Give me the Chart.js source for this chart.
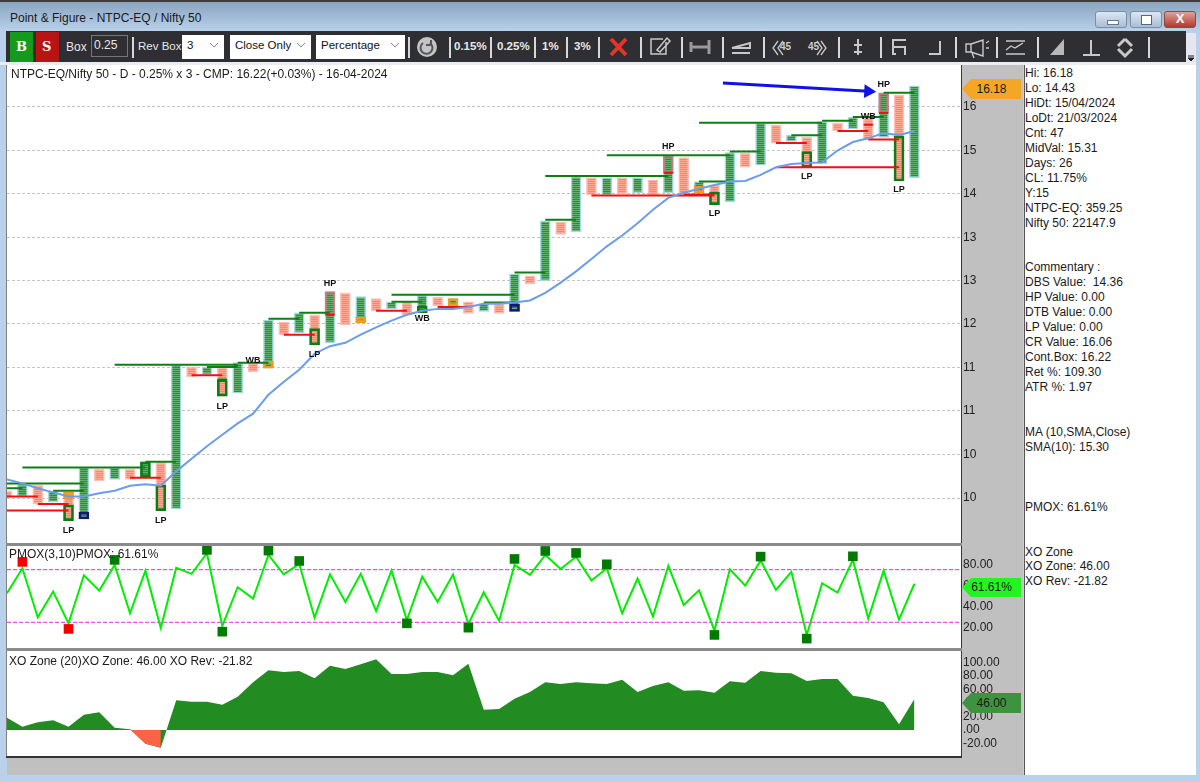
<!DOCTYPE html>
<html>
<head>
<meta charset="utf-8">
<title>Point & Figure - NTPC-EQ / Nifty 50</title>
<script src="https://cdn.jsdelivr.net/npm/chart.js@4/dist/chart.umd.min.js"></script>
<style>
    html, body { margin: 0; padding: 0; width: 1200px; height: 782px; overflow: hidden; background: #b9d1ea; font: 12px "Liberation Sans", Arial, sans-serif; color: #1a1a1a; }
    div, svg, canvas, pre { position: absolute; }
    #titlebar { left: 0; top: 0; width: 1200px; height: 31px; background: linear-gradient(#8aa5c0, #b9d1ea); border-top: 2px solid #3c3c3c; box-sizing: border-box; }
    #title { left: 10px; top: 11px; white-space: nowrap; }
    .winbtn { top: 11px; height: 17px; border: 1px solid #7b8ea3; border-radius: 3px; box-sizing: border-box; background: linear-gradient(#dce7f3, #a9bed4); }
    #toolbar { left: 6px; top: 31px; width: 1180px; height: 31px; background: #2f2f33; }
    #toolend { left: 1186px; top: 33px; width: 10px; height: 29px; background: #e4e8ee; }
    .tool { top: 40px; color: #e8e8e8; white-space: nowrap; }
    .boldtool { font-weight: bold; font-size: 11.5px; }
    .sep { top: 37px; width: 2px; height: 21px; background: #d8d8d8; }
    .combo { top: 35px; height: 24px; background: #fff; color: #111; box-sizing: border-box; padding: 4px 0 0 5px; white-space: nowrap; font-size: 11.5px; }
    #pane1, #pane2, #pane3 { left: 7px; width: 954px; background: #fff; }
    #axisbg { left: 962px; top: 65px; width: 61px; height: 693px; background: #c0c0c0; }
    #bottombg { left: 7px; top: 757px; width: 1016px; height: 18px; background: #c0c0c0; }
    .hline { left: 6px; width: 956px; }
    #side { left: 1024px; top: 65px; width: 172px; height: 710px; background: #fff; border-left: 1px solid #555; box-sizing: border-box; }
    #sidetext { left: 0; top: 1px; margin: 0; font: 12px/14.96px "Liberation Sans", Arial, sans-serif; color: #1a1a1a; }
    .caption { white-space: nowrap; color: #1a1a1a; z-index: 5; }
    .tag { z-index: 6; left: 962px; width: 59px; text-align: center; clip-path: polygon(0 50%, 9px 0, 100% 0, 100% 100%, 9px 100%); color: #1a1a1a; }
</style>
</head>
<body>

<div id="titlebar"></div>
<div id="title">Point &amp; Figure - NTPC-EQ / Nifty 50</div>
<div class="winbtn" style="left:1095px;width:32px"><div style="left:11px;top:8px;width:10px;height:3px;background:#fff;border:1px solid #67788c"></div></div>
<div class="winbtn" style="left:1130px;width:32px"><div style="left:10px;top:3px;width:9px;height:8px;background:#fff;border:1px solid #56677b"></div></div>
<div class="winbtn" style="left:1164px;width:32px;background:linear-gradient(#e2a196,#b03a2e);border-color:#8c4a42;color:#fff;font-weight:bold;text-align:center;line-height:14px;font-size:13px">X</div>

<div id="toolbar"></div>
<div id="toolend"></div>
<div style="left:10px;top:32px;width:23px;height:30px;background:#169a1c"></div>
<div style="left:36px;top:32px;width:23px;height:30px;background:#b81414"></div>
<div style="left:16px;top:39px;color:#fff;font:bold 13px 'DejaVu Serif'">B</div>
<div style="left:42px;top:39px;color:#fff;font:bold 13px 'DejaVu Serif'">S</div>
<div class="tool" style="left:66px">Box</div>
<div style="left:91px;top:35px;width:37px;height:22px;border:1px solid #777;box-sizing:border-box;color:#e8e8e8;padding:2px 0 0 2px">0.25</div>
<div class="sep" style="left:132px"></div>
<div class="tool" style="left:138px;font-size:11.5px">Rev Box</div>
<div class="combo" style="left:182px;width:42px">3</div>
<div class="combo" style="left:230px;width:81px">Close Only</div>
<div class="combo" style="left:316px;width:89px">Percentage</div>
<div class="sep" style="left:408px"></div>
<div class="sep" style="left:449px"></div>
<div class="tool boldtool" style="left:454px">0.15%</div>
<div class="sep" style="left:490px"></div>
<div class="tool boldtool" style="left:497px">0.25%</div>
<div class="sep" style="left:534px"></div>
<div class="tool boldtool" style="left:542px">1%</div>
<div class="sep" style="left:566px"></div>
<div class="tool boldtool" style="left:574px">3%</div>
<div class="sep" style="left:598px"></div>
<div class="sep" style="left:640px"></div>
<div class="sep" style="left:681px"></div>
<div class="sep" style="left:722px"></div>
<div class="sep" style="left:763px"></div>
<div class="sep" style="left:838px"></div>
<div class="sep" style="left:880px"></div>
<div class="sep" style="left:955px"></div>
<div class="sep" style="left:996px"></div>
<div class="sep" style="left:1037px"></div>
<div class="sep" style="left:1148px"></div>
<div class="tool" style="left:780px;top:41px;font-size:10px;font-weight:bold;color:#ccc">45</div>
<div class="tool" style="left:808px;top:41px;font-size:10px;font-weight:bold;color:#ccc">45</div>

<svg style="left:0;top:31px" width="1200" height="31" fill="none" stroke="#c8c8c8" stroke-width="2">
    <polyline points="218,12 214,16 210,12" stroke="#888" stroke-width="1"/>
    <polyline points="305,12 301,16 297,12" stroke="#888" stroke-width="1"/>
    <polyline points="399,12 395,16 391,12" stroke="#888" stroke-width="1"/>
    <circle cx="427" cy="16" r="10" fill="#c4c4c4" stroke="none"/>
    <path d="M423 12 a6 6 0 1 0 7 0 M431 9 v5 h-5" stroke="#55555a"/>
    <path d="M611 8 L626 24 M626 8 L611 24" stroke="#e8332a" stroke-width="4"/>
    <path d="M666 11 v12 h-15 v-15 h12 M657 19 l10 -12 l3 3 l-10 11 z" stroke-width="1.5"/>
    <path d="M691 11 v10 M709 9 v14 M691 16 h18" stroke-width="3" stroke="#9a9a9a"/>
    <path d="M732 22 h18 M732 17 l18 -5 v5 z" stroke="#c8c8c8"/>
    <path d="M778 10 l-5 7 l5 7 M783 10 l-5 7 l5 7" stroke-width="1.3"/>
    <path d="M821 10 l5 7 l-5 7 M817 10 l5 7 l-5 7" stroke-width="1.3"/>
    <path d="M858 8 v16 M854 14 h8 M854 21 h8"/>
    <path d="M906 9 h-13 v14 M893 16 h12 v8 M892 23 h4"/>
    <path d="M940 10 v13 h-11"/>
    <path d="M966 13 v8 h5 l12 4 v-16 l-12 4 z M971 13 v8 M972 22 l2 5 M986 12 l3 -2 M986 17 h3" stroke-width="1.4"/>
    <path d="M1006 10 h19 M1006 23 h19 M1006 19 l5 -4 l4 2 l8 -5" stroke-width="1.3"/>
    <path d="M1050 24 L1064 8 V24 Z" fill="#b8b8b8" stroke="none"/>
    <path d="M1091 9 v14 M1083 24 h17"/>
    <path d="M1125 8 l-7 7 M1125 8 l7 7 M1118 18 l7 7 l7 -7" stroke-width="3"/>
</svg>
<svg style="left:1186px;top:52px" width="10" height="10"><path d="M2 4 h6 M2 6 l3 3 l3 -3 z" stroke="#222" fill="#222"/></svg>

<div style="left:0;top:62px;width:1196px;height:3px;background:#e9edf2"></div>
<div id="axisbg"></div>
<div id="bottombg"></div>
<div id="pane1" style="top:65px;height:478px"></div>
<div id="pane2" style="top:546px;height:102px"></div>
<div id="pane3" style="top:651px;height:105px"></div>
<div style="left:6px;top:65px;width:1px;height:692px;background:#808080"></div>
<div style="left:961px;top:65px;width:1px;height:692px;background:#3a3a3a"></div>
<div class="hline" style="top:543px;height:3px;background:#8a8a8a"></div>
<div class="hline" style="top:648px;height:3px;background:#8a8a8a"></div>
<div class="hline" style="top:756px;height:2px;background:#333"></div>

<canvas id="mainChart" style="left:7px;top:65px" width="1016" height="478"></canvas>
<canvas id="pmoxChart" style="left:7px;top:546px" width="1016" height="102"></canvas>
<canvas id="xoChart" style="left:7px;top:651px" width="1016" height="105"></canvas>

<div class="caption" style="left:11px;top:67px">NTPC-EQ/Nifty 50 - D - 0.25% x 3 - CMP: 16.22(+0.03%) - 16-04-2024</div>
<div class="caption" style="left:9px;top:547px">PMOX(3,10)PMOX: 61.61%</div>
<div class="caption" style="left:9px;top:654px">XO Zone (20)XO Zone: 46.00 XO Rev: -21.82</div>

<div class="tag" style="top:79px;height:20px;line-height:20px;background:#f4a724">16.18</div>
<div class="tag" style="top:578px;height:19px;line-height:19px;background:#22f522">61.61%</div>
<div class="tag" style="top:693px;height:20px;line-height:20px;background:#3f923f">46.00</div>

<div id="side"><pre id="sidetext">Hi: 16.18
Lo: 14.43
HiDt: 15/04/2024
LoDt: 21/03/2024
Cnt: 47
MidVal: 15.31
Days: 26
CL: 11.75%
Y:15
NTPC-EQ: 359.25
Nifty 50: 22147.9


Commentary :
DBS Value:  14.36
HP Value: 0.00
DTB Value: 0.00
LP Value: 0.00
CR Value: 16.06
Cont.Box: 16.22
Ret %: 109.30
ATR %: 1.97


MA (10,SMA,Close)
SMA(10): 15.30



PMOX: 61.61%


XO Zone
XO Zone: 46.00
XO Rev: -21.82</pre></div>

<script>
// ############################### DATA ###############################

var columnCount = 60;
var xMax = 62.03;

// main pane, log price axis
var priceMin = 9.21;
var priceMax = 16.70;
var priceTicks = [15.85, 15.01, 14.22, 13.47, 12.76, 12.09, 11.45, 10.85, 10.27, 9.73];
var priceTickLabels = ["16", "15", "14", "13", "13", "12", "11", "11", "10", "10"];

// O columns sit on even indexes, X columns on odd ones
var colKind = "OXOXOXOXOXOXOXOXOXOXOXOXOXOXOXOXOXOXOXOXOXOXOXOXOXOXOXOXOXOX";
var colHigh = [9.82, 9.90, 9.89, 9.82, 9.80, 10.11, 10.09, 10.11, 10.09, 10.18,
    10.17, 11.49, 11.46, 11.46, 11.45, 11.52, 11.52, 12.15, 12.12, 12.26,
    12.23, 12.59, 12.57, 12.51, 12.48, 12.43, 12.42, 12.53, 12.50, 12.48,
    12.43, 12.40, 12.39, 12.87, 12.84, 13.75, 13.73, 14.53, 14.51, 14.51,
    14.51, 14.51, 14.47, 14.92, 14.88, 14.44, 14.38, 14.97, 14.96, 15.54,
    15.50, 15.30, 15.26, 15.56, 15.54, 15.65, 15.63, 16.13, 16.09, 16.27];
var colLow = [9.74, 9.75, 9.66, 9.68, 9.46, 9.48, 9.94, 9.96, 9.96, 9.99,
    9.58, 9.60, 11.32, 11.35, 11.05, 11.09, 11.39, 11.44, 11.93, 11.96,
    11.78, 11.81, 12.08, 12.11, 12.29, 12.32, 12.23, 12.26, 12.36, 12.37,
    12.25, 12.28, 12.25, 12.28, 12.71, 12.76, 13.52, 13.56, 14.20, 14.20,
    14.22, 14.24, 14.20, 14.24, 14.22, 14.24, 14.03, 14.08, 14.70, 14.74,
    15.15, 15.18, 14.70, 14.76, 15.38, 15.42, 15.22, 15.26, 14.45, 14.51];

var maValues = [9.96, 9.91, 9.85, 9.80, 9.75, 9.75, 9.79, 9.82, 9.88, 9.90,
    9.88, 10.06, 10.22, 10.38, 10.53, 10.68, 10.81, 11.07, 11.25, 11.42,
    11.65, 11.76, 11.81, 11.93, 12.04, 12.14, 12.23, 12.29, 12.32, 12.32,
    12.35, 12.40, 12.40, 12.42, 12.45, 12.57, 12.73, 12.91, 13.11, 13.32,
    13.50, 13.71, 13.94, 14.15, 14.24, 14.31, 14.38, 14.44, 14.45, 14.56,
    14.70, 14.76, 14.78, 14.79, 15.01, 15.17, 15.24, 15.34, 15.30, 15.38];

// outlined boxes: [column, low, high]
var greenBoxes = [[4, 9.46, 9.65], [9, 9.99, 10.18], [10, 9.58, 9.89], [14, 11.05, 11.28], [20, 11.78, 12.02],
    [27, 12.26, 12.36], [46, 14.03, 14.25], [52, 14.70, 14.99], [58, 14.45, 15.28]];
var orangeBoxes = [[4, 9.72, 9.80], [17, 11.44, 11.54], [23, 12.11, 12.19], [29, 12.37, 12.48], [45, 14.24, 14.36]];
var navyBoxes = [[5, 9.48, 9.56], [33, 12.28, 12.39]];
var pinkBoxes = [[21, 12.23, 12.59], [43, 14.60, 14.92], [57, 15.73, 16.13]];

// level lines: [from column, to column, price]
var greenLevels = [[0, 5, 9.91], [0, 1, 9.85], [3, 5, 9.82], [1, 9, 10.11], [9, 11, 10.18], [7, 15, 11.49],
    [13, 15, 11.46], [15, 17, 11.52], [17, 19, 12.17], [19, 21, 12.26], [25, 33, 12.54], [25, 27, 12.43],
    [31, 33, 12.42], [33, 35, 12.89], [35, 37, 13.77], [35, 43, 14.54], [39, 47, 14.92], [47, 49, 14.99],
    [45, 47, 14.44], [51, 53, 15.30], [45, 53, 15.54], [53, 55, 15.58], [55, 57, 15.65], [57, 59, 16.13],
    [13.7, 14.3, 11.28]];
var redLevels = [[0, 2, 9.75], [2, 4, 9.66], [0, 4, 9.58], [8, 10, 9.98], [12, 14, 11.34], [18, 20, 11.93],
    [24, 26, 12.29], [28, 30, 12.35], [38, 46, 14.19], [44, 46, 14.21], [50, 58, 14.70], [50, 52, 15.15],
    [54, 56, 15.38], [56, 58, 15.22], [20.7, 21.3, 12.23], [42.7, 43.3, 14.60], [55.7, 56.3, 15.50],
    [56.7, 57.3, 15.73]];

// signal text: [column, price]
var lpLabels = [[4, 9.34], [10, 9.46], [14, 10.91], [20, 11.64], [46, 13.87], [52, 14.54], [58, 14.29]];
var hpLabels = [[21, 12.71], [43, 15.09], [57, 16.29]];
var wbLabels = [[16, 11.55], [27, 12.17], [56, 15.67]];

var arrowColumns = [46.55, 56.0];
var arrowPrices = [16.33, 16.16];

// PMOX pane
var pmoxMin = 0.57;
var pmoxMax = 97.5;
var pmoxTicks = [80, 60, 40, 20];
var pmoxUpper = 75;
var pmoxLower = 25;
var pmoxValues = [52.6, 76.3, 29.8, 54.2, 24.0, 69.7, 55.1, 79.5, 33.6, 74.1,
    19.6, 76.7, 71.0, 90.6, 21.5, 58.3, 47.5, 89.0, 70.6, 80.5,
    29.4, 70.6, 44.3, 71.0, 35.8, 74.1, 27.2, 68.4, 44.3, 70.3,
    23.4, 53.5, 26.3, 79.5, 70.0, 89.0, 75.7, 87.4, 64.6, 76.3,
    33.6, 66.5, 30.4, 78.6, 41.5, 55.4, 17.1, 75.4, 59.9, 83.6,
    55.7, 72.9, 13.0, 62.1, 53.2, 84.3, 28.5, 74.1, 27.5, 61.61];
var pmoxRedMarks = [[1, 82.4], [4, 18.7]];
var pmoxGreenMarks = [[7, 84.3], [13, 93.8], [14, 16.1], [17, 93.1], [19, 83.3], [26, 24.0], [30, 19.9],
    [33, 85.2], [35, 92.8], [37, 90.9], [39, 80.1], [46, 13.0], [49, 87.4], [52, 9.5], [55, 87.7]];

// XO zone pane
var xoMin = -38.5;
var xoMax = 117;
var xoTicks = [100, 80, 60, 40, 20, 0, -20];
var xoTickLabels = ["100.00", "80.00", "60.00", "40.00", "20.00", ".00", "-20.00"];
var xoValues = [18.3, 4.9, 11.4, 14.3, 4.9, 22.7, 26.2, 3.5, 1.0, -20.2,
    -26.2, 43.9, 42.0, 42.0, 37.5, 49.4, 70.6, 88.4, 85.9, 87.4,
    76.5, 95.3, 90.4, 97.3, 104.7, 83.0, 83.0, 85.9, 85.9, 81.0,
    98.3, 30.1, 31.1, 46.4, 56.3, 70.6, 68.1, 70.6, 69.1, 68.1,
    74.6, 56.3, 65.2, 70.6, 58.3, 58.8, 55.3, 72.1, 70.1, 87.4,
    84.9, 83.9, 72.6, 75.5, 75.5, 50.9, 47.4, 41.0, 8.4, 46.0];
var xoNegativeColumns = [8, 9, 10];

// ############################### HELPERS ###############################

function stripes(dark, light) {
    var tile = document.createElement("canvas");
    tile.width = 8;
    tile.height = 2;
    var ctx = tile.getContext("2d");
    ctx.fillStyle = dark;
    ctx.fillRect(0, 0, 8, 2);
    ctx.fillStyle = light;
    ctx.fillRect(0, 1, 8, 1);
    return ctx.createPattern(tile, "repeat");
}

function levelPoints(levels) {
    var points = [];
    levels.forEach(function (l) {
        points.push({x: l[0], y: l[2]}, {x: l[1], y: l[2]}, {x: l[1], y: null});
    });
    return points;
}

function boxDataset(boxes, color) {
    return {
        type: "bar",
        order: 4,
        data: boxes.map(function (b) { return {x: b[0], y: [b[1], b[2]]}; }),
        backgroundColor: "rgba(0,0,0,0)",
        borderColor: color,
        borderWidth: 2,
        borderSkipped: false,
        barThickness: 10,
        grouped: false
    };
}

function levelDataset(levels, color) {
    return {
        type: "line",
        order: 3,
        data: levelPoints(levels),
        borderColor: color,
        borderWidth: 2,
        pointRadius: 0,
        spanGaps: false
    };
}

function columnDataset(kind, fill, edge) {
    var rows = [];
    for (var i = 0; i < columnCount; i++) {
        if (colKind[i] == kind)
            rows.push({x: i, y: [colLow[i], colHigh[i]]});
    }
    return {
        type: "bar",
        order: 5,
        data: rows,
        backgroundColor: fill,
        borderColor: edge,
        borderWidth: 1.5,
        borderSkipped: false,
        barThickness: 10,
        grouped: false
    };
}

function seriesPoints(values) {
    return values.map(function (v, i) { return {x: i, y: v}; });
}

function markDataset(marks, color) {
    return {
        type: "line",
        order: 1,
        data: marks.map(function (m) { return {x: m[0], y: m[1]}; }),
        showLine: false,
        pointStyle: "rect",
        pointRadius: 6.8,
        pointBackgroundColor: color,
        pointBorderColor: color,
        pointBorderWidth: 0
    };
}

function flatLine(value) {
    return {
        type: "line",
        order: 3,
        data: [{x: 0, y: value}, {x: xMax, y: value}],
        borderColor: "#f020f0",
        borderWidth: 1,
        borderDash: [4, 2],
        pointRadius: 0
    };
}

// the value axis is fixed to the grey strip on the right of each pane,
// and neither axis may inset the plot for its first or last label
function noInset(scale) {
    scale.paddingTop = 0;
    scale.paddingBottom = 0;
    scale.paddingLeft = 0;
    scale.paddingRight = 0;
}

function paneOptions(yScale) {
    yScale.position = "right";
    yScale.afterFit = function (scale) {
        scale.width = 62;
        noInset(scale);
    };
    yScale.border = yScale.border || {display: false};
    yScale.ticks.autoSkip = false;
    yScale.ticks.padding = 2;
    yScale.ticks.color = "#222";
    yScale.ticks.font = {family: "Liberation Sans", size: 12};
    return {
        responsive: false,
        animation: false,
        layout: {padding: 0, autoPadding: false},
        plugins: {legend: {display: false}, tooltip: {enabled: false}},
        scales: {
            x: {type: "linear", offset: false, min: 0, max: xMax, display: false, afterFit: noInset},
            y: yScale
        }
    };
}

var signalText = {
    id: "signalText",
    afterDatasetsDraw: function (chart) {
        var ctx = chart.ctx;
        ctx.save();
        ctx.font = "bold 9px 'Liberation Sans'";
        ctx.fillStyle = "#111";
        ctx.textAlign = "center";
        ctx.textBaseline = "middle";
        [["LP", lpLabels], ["HP", hpLabels], ["WB", wbLabels]].forEach(function (group) {
            group[1].forEach(function (l) {
                ctx.fillText(group[0], chart.scales.x.getPixelForValue(l[0]), chart.scales.y.getPixelForValue(l[1]));
            });
        });
        ctx.restore();
    }
};

// ############################### MAIN PANE ###############################

new Chart(document.getElementById("mainChart"), {
    type: "bar",
    data: {
        datasets: [
            columnDataset("X", stripes("#2f8a40", "#68ad70"), "rgba(150,215,225,0.9)"),
            columnDataset("O", stripes("#fa8472", "#ffa898"), "rgba(255,170,160,0.75)"),
            boxDataset(greenBoxes, "#0b7d12"),
            boxDataset(orangeBoxes, "#f59a1b"),
            boxDataset(navyBoxes, "#14147a"),
            boxDataset(pinkBoxes, "rgba(205,110,120,0.8)"),
            levelDataset(greenLevels, "#0f7f15"),
            levelDataset(redLevels, "#f01010"),
            {
                type: "line",
                order: 2,
                data: seriesPoints(maValues),
                borderColor: "#6c9cec",
                borderWidth: 2,
                pointRadius: 0,
                tension: 0
            },
            {
                type: "line",
                order: 1,
                data: [{x: arrowColumns[0], y: arrowPrices[0]}, {x: arrowColumns[1], y: arrowPrices[1]}],
                borderColor: "#1010e8",
                borderWidth: 3,
                pointStyle: "triangle",
                pointRadius: [0, 8],
                pointRotation: 93,
                pointBackgroundColor: "#1010e8",
                pointBorderWidth: 0
            }
        ]
    },
    plugins: [signalText],
    options: paneOptions({
        type: "logarithmic",
        min: priceMin,
        max: priceMax,
        afterBuildTicks: function (scale) {
            scale.ticks = priceTicks.map(function (v) { return {value: v}; });
        },
        border: {display: false, dash: [3, 2]},
        grid: {color: "#c4c4c4", lineWidth: 1, drawTicks: false},
        ticks: {callback: function (v, idx) { return priceTickLabels[idx]; }}
    })
});

// ############################### PMOX PANE ###############################

new Chart(document.getElementById("pmoxChart"), {
    type: "line",
    data: {
        datasets: [
            {
                order: 2,
                data: seriesPoints(pmoxValues),
                borderColor: "#00ee00",
                borderWidth: 2,
                pointRadius: 0,
                tension: 0
            },
            flatLine(pmoxUpper),
            flatLine(pmoxLower),
            markDataset(pmoxRedMarks, "#f40000"),
            markDataset(pmoxGreenMarks, "#007a00")
        ]
    },
    options: paneOptions({
        type: "linear",
        min: pmoxMin,
        max: pmoxMax,
        afterBuildTicks: function (scale) {
            scale.ticks = pmoxTicks.map(function (v) { return {value: v}; });
        },
        grid: {display: false, drawTicks: false},
        ticks: {callback: function (v) { return v.toFixed(2); }}
    })
});

// ############################### XO ZONE PANE ###############################

new Chart(document.getElementById("xoChart"), {
    type: "line",
    data: {
        datasets: [
            {
                order: 1,
                data: xoNegativeColumns.map(function (i) { return {x: i, y: xoValues[i]}; }),
                backgroundColor: "#ff6347",
                borderWidth: 0,
                pointRadius: 0,
                fill: "origin"
            },
            {
                order: 2,
                data: seriesPoints(xoValues),
                backgroundColor: "#228b22",
                borderWidth: 0,
                pointRadius: 0,
                tension: 0,
                fill: "origin"
            }
        ]
    },
    options: paneOptions({
        type: "linear",
        min: xoMin,
        max: xoMax,
        afterBuildTicks: function (scale) {
            scale.ticks = xoTicks.map(function (v) { return {value: v}; });
        },
        grid: {display: false, drawTicks: false},
        ticks: {callback: function (v, idx) { return xoTickLabels[idx]; }}
    })
});
</script>
</body>
</html>
